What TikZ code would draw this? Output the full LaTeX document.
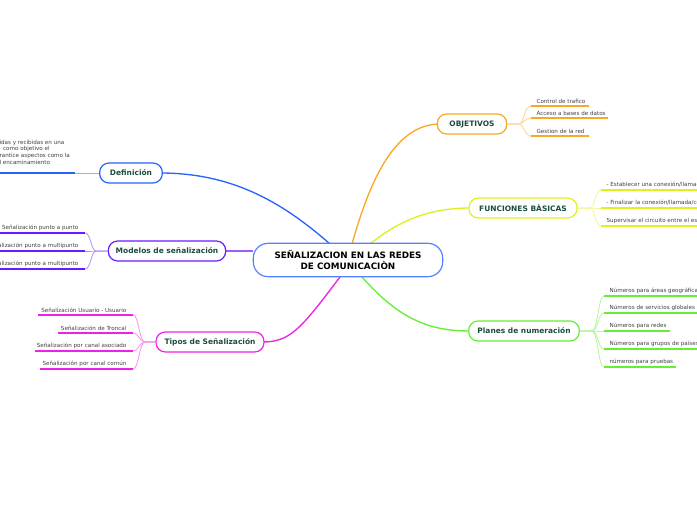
\documentclass[tikz,border=0pt]{standalone}
\usepackage{fontspec}
\setmainfont{DejaVu Sans}
\begin{document}
\begin{tikzpicture}[x=0.75pt,y=-0.75pt,
  topic/.style={draw=#1,line width=0.9pt,rounded corners=7pt,fill=white,text=tgreen,font=\bfseries\fontsize{5.6}{6}\selectfont,minimum height=15pt,inner xsep=0pt},
  leaf/.style={font=\fontsize{4.2}{5}\selectfont,text=black!75,inner sep=1pt},
  main/.style={draw=#1,line width=1pt},
  sub/.style={draw=#1!50,line width=0.6pt},
  uline/.style={draw=#1,line width=1.3pt}]
\definecolor{tgreen}{HTML}{1B4D3E}
\definecolor{cob}{HTML}{F9A825}
\definecolor{cfu}{HTML}{DDF020}
\definecolor{cpl}{HTML}{66EE33}
\definecolor{cde}{HTML}{2962FF}
\definecolor{cmo}{HTML}{6A1BFF}
\definecolor{cti}{HTML}{EE22E6}
\useasboundingbox (0,0) rectangle (697,520);
\clip (0,0) rectangle (697,520);
% main connectors
\coordinate (c1) at (352,244);
\coordinate (c2) at (370,244);
\coordinate (c3) at (362,277);
\coordinate (c4) at (330,244);
\coordinate (c5) at (253,251);
\coordinate (c6) at (340,277);
\draw[main=cob] (c1) .. controls (370,180) and (395,124) .. (440,124);
\draw[main=cfu] (c2) .. controls (400,220) and (430,208) .. (470,208);
\draw[main=cpl] (c3) .. controls (400,320) and (430,331) .. (470,331);
\draw[main=cde] (c4) .. controls (280,200) and (230,173) .. (160,173);
\draw[main=cmo!70] (c5) -- (225,251);
\draw[main=cti] (c6) .. controls (300,330) and (290,342) .. (262,342);
% topics
\node[topic=cob,minimum width=52pt] (obj) at (472,124) {OBJETIVOS};
\node[topic=cfu,minimum width=81pt] (fun) at (523,208) {FUNCIONES BÀSICAS};
\node[topic=cpl,minimum width=83pt] (pla) at (524,331) {Planes de numeración};
\node[topic=cde,minimum width=47pt] (def) at (131,173) {Definición};
\node[topic=cmo,minimum width=88pt] (mod) at (167,251) {Modelos de señalización};
\node[topic=cti,minimum width=81pt] (tip) at (210,342) {Tipos de Señalización};
\node[draw=cde!80,line width=0.9pt,rounded corners=11pt,fill=white,minimum width=142pt,minimum height=25pt,align=center,font=\bfseries\fontsize{6.6}{8}\selectfont] (ctr) at (348,260) {SEÑALIZACION EN LAS REDES\\DE COMUNICACIÒN};
% OBJETIVOS leaves
\foreach \y/\e/\t [count=\i] in {106/589/{Control de trafico},118/608/{Acceso a bases de datos},136/589/{Gestion de la red}}{
  \coordinate (o\i) at (531,\y);
  \draw[sub=cob] (obj.east) -- (519,124) .. controls (524,124) and (524,\y) .. (o\i);
  \draw[uline=cob] (o\i) -- (\e,\y);
  \node[leaf,anchor=south west] (ot\i) at (535,\y-1) {\t};
}
% FUNCIONES leaves
\foreach \y/\t [count=\i] in {190/{- Establecer una conexión/llamada/conexión},208/{- Finalizar la conexión/llamada/conexión},226/{Supervisar el circuito entre el establecimiento}}{
  \coordinate (f\i) at (601,\y);
  \draw[sub=cfu] (fun.east) -- (590,208) .. controls (595,208) and (595,\y) .. (f\i);
  \draw[uline=cfu] (f\i) -- (700,\y);
  \node[leaf,anchor=south west] (ft\i) at (605,\y-1) {\t};
}
% PLANES leaves
\foreach \y/\e/\t [count=\i] in {296/700/{Números para áreas geográficas},313/700/{Números de servicios globales},331/670/{Números para redes},349/700/{Números para grupos de países},367/676/{números para pruebas}}{
  \coordinate (p\i) at (604,\y);
  \draw[sub=cpl] (pla.east) -- (592,331) .. controls (598,331) and (598,\y) .. (p\i);
  \draw[uline=cpl] (p\i) -- (\e,\y);
  \node[leaf,anchor=south west] (pt\i) at (608,\y-1) {\t};
}
% Definicion leaf
\coordinate (d1) at (75,173);
\draw[sub=cde] (def.west) -- (d1);
\draw[uline=cde] (d1) -- (-2,173);
\node[leaf,anchor=south west,align=left] (dt) at (-2,166) {idas y recibidas en una\\\ \ como objetivo el\\rantice aspectos como la\\l encaminamiento};
% Modelos leaves
\foreach \y/\t [count=\i] in {233/{Señalización punto a punto},251/{alización punto a multipunto},269/{alización punto a multipunto}}{
  \coordinate (m\i) at (85,\y);
  \draw[sub=cmo] (mod.west) -- (96,251) .. controls (91,251) and (91,\y) .. (m\i);
  \draw[uline=cmo] (m\i) -- (-2,\y);
  \node[leaf,anchor=south east] (mt\i) at (80,\y-1) {\t};
}
% Tipos leaves
\foreach \y/\s/\t [count=\i] in {315/38/{Señalización Usuario - Usuario},333/58/{Señalización de Troncal},351/35/{Señalización por canal asociado},369/40/{Señalización por canal común}}{
  \coordinate (t\i) at (133,\y);
  \draw[sub=cti] (tip.west) -- (145,342) .. controls (139,342) and (139,\y) .. (t\i);
  \draw[uline=cti] (t\i) -- (\s,\y);
  \node[leaf,anchor=south east] (tt\i) at (128,\y-1) {\t};
}
\end{tikzpicture}
\end{document}
